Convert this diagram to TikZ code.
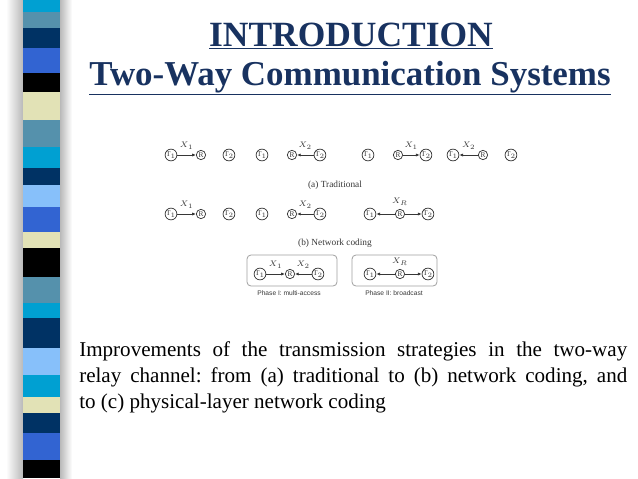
\documentclass[tikz,border=0pt]{standalone}
\usepackage{fontspec}
\setmainfont{Liberation Serif}
\setsansfont{Liberation Sans}
\usetikzlibrary{positioning, arrows.meta}

\definecolor{titleblue}{RGB}{24,50,96}
\definecolor{diagray}{RGB}{55,55,55}
\definecolor{stcyan}{RGB}{0,160,210}
\definecolor{ststeel}{RGB}{85,145,172}
\definecolor{stnavy}{RGB}{0,50,100}
\definecolor{stroyal}{RGB}{50,100,210}
\definecolor{stbeige}{RGB}{226,226,182}
\definecolor{stlight}{RGB}{135,192,250}

\tikzset{
  term/.style={circle, draw=diagray, line width=0.55pt, inner sep=0pt,
    minimum size=7pt, text=diagray, font=\fontsize{5.5}{6}\selectfont},
  link/.style={-{Latex[length=2.8pt,width=2.4pt]}, draw=diagray, line width=0.6pt},
  sig/.style={text=diagray, inner sep=0.5pt, font=\fontsize{6.5}{7}\selectfont},
  phasebox/.style={draw=gray!75, rounded corners=3pt, line width=0.6pt},
  subcap/.style={text=diagray, font=\fontsize{7}{8}\selectfont},
  phasecap/.style={text=diagray, font=\sffamily\fontsize{5}{6}\selectfont},
  headline/.style={text=titleblue, anchor=base},
}

\begin{document}
\frenchspacing
\begin{tikzpicture}[x=0.75pt, y=-0.75pt]
\useasboundingbox (0,0) rectangle (638,478);

% striped bar on the left
\shade[left color=white, right color=gray!55] (6,0) rectangle (23,478);
\shade[left color=gray!55, right color=white] (60,0) rectangle (72,478);
\foreach \ya/\yb/\c in {0/12/stcyan, 12/28/ststeel, 28/48/stnavy, 48/73/stroyal,
    73/92/black, 92/120/stbeige, 120/147/ststeel, 147/168/stcyan, 168/185/stnavy,
    185/207/stlight, 207/232/stroyal, 232/248/stbeige, 248/277/black,
    277/303/ststeel, 303/318/stcyan, 318/348/stnavy, 348/375/stlight,
    375/397/stcyan, 397/413/stbeige, 413/433/stnavy, 433/460/stroyal, 460/478/black}
  \fill[\c] (23,\ya) rectangle (60,\yb);

% headings
\node[headline, font=\bfseries\fontsize{26.6}{30}\selectfont] (intro) at (351,46)
  {\underline{INTRODUCTION}};
\node[headline, font=\bfseries\fontsize{26.2}{30}\selectfont] (twoway) at (350,85)
  {\underline{Two-Way Communication Systems}};

% the three T1 - R - T2 trios of each row
\foreach \n/\x/\y in {a1/171/155, a2/262/155, a3/368/155, a4/453/155,
    b1/171/214, b2/262/214, b3/370/214, c1/260/274, c2/370/274} {
  \node[term] (\n t1) at (\x,\y) {$\mathrm{T}_1$};
  \node[term, right=14pt of \n t1] (\n r) {R};
  \node[term, right=12.5pt of \n r] (\n t2) {$\mathrm{T}_2$};
}

% (a) traditional
\draw[link] (a1t1) -- node[sig, above=3.5pt] {$X_1$} (a1r);
\draw[link] (a2t2) -- node[sig, above=3.5pt] {$X_2$} (a2r);
\draw[link] (a3r) -- node[sig, above=3.5pt] {$X_1$} (a3t2);
\draw[link] (a4r) -- node[sig, above=3.5pt] {$X_2$} (a4t1);
\node[subcap] (capa) at (335,185) {(a) Traditional};

% (b) network coding
\draw[link] (b1t1) -- node[sig, above=3.5pt] {$X_1$} (b1r);
\draw[link] (b2t2) -- node[sig, above=3.5pt] {$X_2$} (b2r);
\draw[link] (b3r) -- (b3t1);
\draw[link] (b3r) -- (b3t2);
\node[sig, above=2pt of b3r] (xrb) {$X_R$};
\node[subcap] (capb) at (335,243) {(b) Network coding};

% (c) physical-layer network coding
\draw[phasebox] (247,255) rectangle (337,286);
\draw[phasebox] (352,255) rectangle (437,286);
\draw[link] (c1t1) -- node[sig, above=3.5pt] {$X_1$} (c1r);
\draw[link] (c1t2) -- node[sig, above=3.5pt] {$X_2$} (c1r);
\draw[link] (c2r) -- (c2t1);
\draw[link] (c2r) -- (c2t2);
\node[sig, above=2pt of c2r] (xrc) {$X_R$};
\node[phasecap] (phase1) at (289,293) {Phase I: multi-access};
\node[phasecap] (phase2) at (394,293) {Phase II: broadcast};

% caption text
\node[anchor=base west, text width=411pt, align=justify, inner sep=0pt,
  font=\fontsize{15.8}{19.4}\selectfont] (body) at (79,356.7)
  {\hyphenpenalty=10000 Improvements of the transmission strategies in the two-way\linebreak
   relay channel: from (a) traditional to (b) network coding, and\linebreak
   to (c) physical-layer network coding};
\end{tikzpicture}
\end{document}
